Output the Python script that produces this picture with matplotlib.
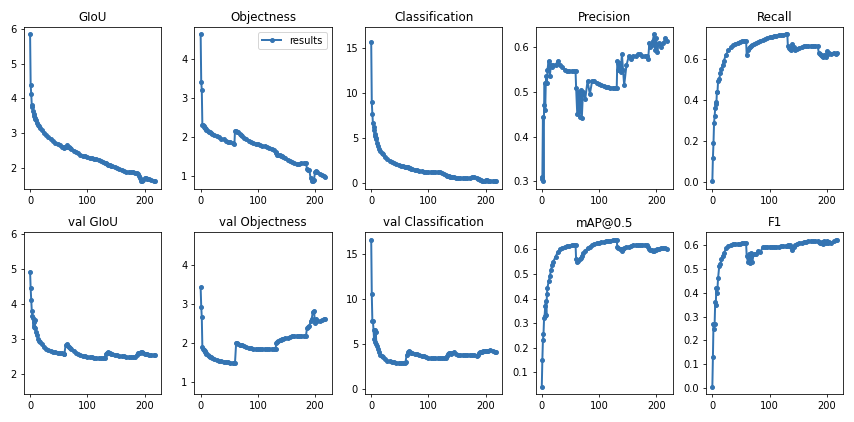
import matplotlib
matplotlib.use("Agg")
import matplotlib.pyplot as plt
from matplotlib.ticker import MultipleLocator

epochs = [0,1,2,3,4,5,6,7,8,9,10,12,14,16,18,20,24,28,32,36,40,44,48,52,56,59,60,62,64,66,68,70,72,
          76,80,84,88,92,96,100,104,108,112,116,120,124,128,131,132,134,136,138,140,142,144,
          148,152,156,160,164,168,172,176,180,184,186,188,190,192,194,196,198,200,202,204,208,212,216,218]

giou = [5.85,4.4,4.12,3.8,3.75,3.65,3.55,3.5,3.45,3.42,3.38,3.3,3.25,3.2,3.15,3.1,3.02,2.96,2.9,2.84,2.78,2.73,2.68,2.65,2.62,2.6,2.58,2.62,2.65,2.62,2.6,2.58,2.55,
        2.5,2.46,2.42,2.38,2.36,2.34,2.32,2.3,2.28,2.27,2.26,2.24,2.21,2.18,2.15,2.14,2.12,2.1,2.09,2.08,2.06,2.05,
        2.02,2.0,1.97,1.94,1.92,1.9,1.9,1.89,1.88,1.87,1.85,1.82,1.78,1.72,1.64,1.62,1.66,1.72,1.72,1.7,1.68,1.66,1.64,1.63]

objectness = [4.65,3.42,3.22,2.3,2.3,2.28,2.25,2.23,2.22,2.2,2.18,2.16,2.14,2.12,2.1,2.08,2.05,2.02,1.99,1.96,1.94,1.91,1.88,1.86,1.84,1.82,2.15,2.15,2.14,2.12,2.08,2.05,2.02,
              1.98,1.94,1.9,1.87,1.85,1.83,1.82,1.8,1.78,1.76,1.75,1.73,1.7,1.66,1.62,1.58,1.55,1.54,1.53,1.52,1.5,1.48,
              1.45,1.42,1.38,1.35,1.32,1.31,1.31,1.32,1.32,1.32,1.18,1.16,1.15,0.95,0.88,0.86,0.9,1.1,1.12,1.1,1.06,1.02,0.99,0.97]

classification = [15.7,9.0,7.7,6.7,6.3,5.9,5.5,5.2,5.0,4.9,4.5,4.1,3.8,3.6,3.4,3.2,2.9,2.7,2.5,2.3,2.2,2.1,2.0,1.95,1.9,1.85,1.8,1.8,1.75,1.7,1.65,1.6,1.55,
                  1.5,1.45,1.4,1.3,1.25,1.2,1.2,1.2,1.25,1.25,1.25,1.2,1.15,1.0,0.9,0.85,0.8,0.75,0.7,0.7,0.65,0.65,
                  0.6,0.6,0.55,0.55,0.55,0.55,0.6,0.65,0.65,0.6,0.5,0.45,0.4,0.3,0.25,0.25,0.25,0.3,0.3,0.25,0.25,0.22,0.2,0.2]

precision = [0.31,0.305,0.445,0.30,0.47,0.52,0.46,0.52,0.535,0.52,0.55,0.57,0.535,0.56,0.555,0.56,0.56,0.57,0.56,0.555,0.55,0.548,0.547,0.547,0.547,0.547,0.51,0.45,0.50,0.445,0.505,0.443,0.50,
             0.485,0.525,0.495,0.525,0.525,0.52,0.518,0.516,0.514,0.512,0.511,0.51,0.51,0.51,0.51,0.57,0.55,0.565,0.545,0.585,0.55,0.515,
             0.56,0.58,0.575,0.58,0.58,0.585,0.585,0.58,0.58,0.58,0.575,0.61,0.6,0.605,0.615,0.63,0.595,0.62,0.59,0.61,0.6,0.61,0.62,0.615]

recall = [0.005,0.12,0.19,0.29,0.32,0.36,0.39,0.38,0.44,0.44,0.49,0.50,0.53,0.55,0.57,0.59,0.62,0.64,0.655,0.665,0.672,0.678,0.682,0.685,0.687,0.688,0.62,0.64,0.65,0.655,0.66,0.665,0.67,
          0.675,0.68,0.685,0.69,0.695,0.7,0.705,0.707,0.709,0.711,0.713,0.715,0.717,0.718,0.72,0.66,0.65,0.645,0.64,0.67,0.655,0.64,
          0.645,0.65,0.655,0.66,0.66,0.662,0.662,0.663,0.663,0.663,0.63,0.625,0.62,0.615,0.61,0.62,0.61,0.635,0.625,0.63,0.625,0.63,0.625,0.63]

val_giou = [4.93,4.45,4.12,3.8,3.65,3.6,3.35,3.5,3.55,3.3,3.2,3.1,3.0,2.95,2.9,2.85,2.78,2.72,2.68,2.65,2.63,2.62,2.61,2.6,2.59,2.58,2.57,2.82,2.85,2.8,2.76,2.73,2.7,
            2.65,2.6,2.57,2.55,2.52,2.5,2.49,2.48,2.47,2.46,2.45,2.45,2.44,2.44,2.44,2.58,2.6,2.62,2.61,2.6,2.58,2.57,
            2.55,2.53,2.52,2.51,2.5,2.49,2.48,2.48,2.48,2.48,2.55,2.6,2.61,2.61,2.62,2.62,2.61,2.58,2.56,2.56,2.55,2.55,2.54,2.53]

val_objectness = [3.42,2.93,2.65,1.88,1.85,1.82,1.8,1.78,1.76,1.74,1.72,1.69,1.66,1.64,1.62,1.6,1.57,1.55,1.53,1.52,1.51,1.5,1.5,1.49,1.48,1.48,1.48,1.98,1.98,1.96,1.95,1.94,1.93,
                  1.91,1.89,1.87,1.86,1.85,1.84,1.83,1.83,1.83,1.83,1.83,1.83,1.83,1.83,1.83,1.98,2.03,2.05,2.07,2.08,2.1,2.1,
                  2.12,2.13,2.15,2.16,2.17,2.17,2.18,2.18,2.18,2.18,2.38,2.4,2.42,2.55,2.6,2.8,2.82,2.5,2.6,2.55,2.55,2.58,2.6,2.62]

val_classification = [16.6,10.5,7.6,7.5,6.6,5.5,6.5,5.2,6.3,5.0,4.8,4.4,4.1,3.8,3.6,3.5,3.3,3.1,3.05,3.0,2.95,2.92,2.9,2.9,2.9,2.9,3.0,3.8,4.1,4.2,4.05,4.0,3.95,
                      3.9,3.9,3.8,3.7,3.6,3.5,3.45,3.4,3.4,3.4,3.4,3.4,3.4,3.4,3.45,3.7,3.9,4.0,4.0,3.9,4.0,4.1,
                      3.9,3.8,3.8,3.8,3.8,3.8,3.8,3.8,3.75,3.7,3.8,4.0,4.1,4.1,4.1,4.2,4.2,4.2,4.25,4.2,4.3,4.2,4.15,4.1]

map05 = [0.04,0.15,0.23,0.255,0.32,0.33,0.37,0.39,0.335,0.42,0.445,0.47,0.49,0.515,0.535,0.55,0.57,0.59,0.6,0.605,0.61,0.613,0.615,0.617,0.62,0.62,0.56,0.55,0.555,0.56,0.565,0.575,0.585,
         0.595,0.605,0.612,0.618,0.622,0.625,0.628,0.63,0.632,0.634,0.635,0.636,0.637,0.638,0.64,0.61,0.605,0.6,0.6,0.595,0.6,0.605,
         0.61,0.612,0.615,0.617,0.618,0.618,0.619,0.62,0.62,0.618,0.61,0.6,0.598,0.596,0.595,0.595,0.596,0.598,0.6,0.602,0.605,0.605,0.604,0.603]

f1 = [0.005,0.13,0.27,0.25,0.27,0.36,0.35,0.42,0.40,0.42,0.46,0.51,0.52,0.54,0.555,0.565,0.585,0.595,0.6,0.602,0.603,0.604,0.605,0.606,0.606,0.606,0.555,0.53,0.56,0.525,0.565,0.53,0.56,
      0.56,0.575,0.57,0.59,0.592,0.593,0.593,0.593,0.593,0.593,0.593,0.594,0.594,0.595,0.595,0.6,0.595,0.6,0.59,0.58,0.59,0.6,
      0.605,0.608,0.61,0.612,0.614,0.615,0.616,0.616,0.616,0.615,0.612,0.61,0.61,0.612,0.605,0.615,0.61,0.615,0.61,0.612,0.61,0.615,0.62,0.622]

titles = ['GIoU', 'Objectness', 'Classification', 'Precision', 'Recall',
          'val GIoU', 'val Objectness', 'val Classification', 'mAP@0.5', 'F1']
series = [giou, objectness, classification, precision, recall,
          val_giou, val_objectness, val_classification, map05, f1]
y_steps = [1, 1, 5, 0.1, 0.2, 1, 1, 5, 0.1, 0.1]

fig, ax = plt.subplots(2, 5, figsize=(854 / 71.17, 422 / 71.17), dpi=71.17)
ax = ax.ravel()
for i in range(10):
    ax[i].plot(epochs, series[i], marker='.', label='results', linewidth=2, markersize=8, color='#3474b2')
    ax[i].set_title(titles[i])
for i in [5, 6, 7]:
    ax[i].sharey(ax[i - 5])
for i in range(10):
    ax[i].yaxis.set_major_locator(MultipleLocator(y_steps[i]))
    ax[i].xaxis.set_major_locator(MultipleLocator(100))
ax[1].legend()
fig.tight_layout()
fig.savefig('out.png', dpi=71.17)
